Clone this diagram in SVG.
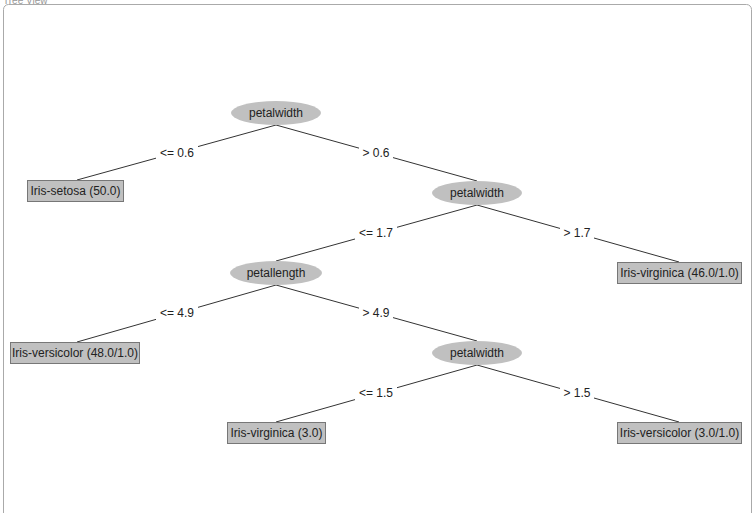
<svg xmlns="http://www.w3.org/2000/svg" width="756" height="513" viewBox="0 0 756 513">
<style>
text{font-family:"Liberation Sans",Arial,sans-serif;font-size:12px;fill:#222;text-anchor:middle}
.e{fill:#c0c0c0;stroke:none}
.b{fill:#c0c0c0;stroke:#777;stroke-width:1}
.c line{stroke:#333;stroke-width:1}
.lb{fill:#fff}
</style>
<rect x="0" y="0" width="756" height="513" fill="#fff"/>
<text x="3" y="4" style="text-anchor:start;fill:#999;font-size:10px">Tree View</text>
<rect x="3.5" y="4.5" width="748" height="520" rx="5" fill="none" stroke="#aaa"/>
<g id="connectors" class="c">
<line x1="276" y1="125" x2="77" y2="180"/>
<line x1="276" y1="125" x2="477" y2="181"/>
<line x1="477" y1="205" x2="276" y2="261"/>
<line x1="477" y1="205" x2="679" y2="262"/>
<line x1="276" y1="285" x2="77" y2="342"/>
<line x1="276" y1="285" x2="477" y2="341"/>
<line x1="477" y1="365" x2="276" y2="422"/>
<line x1="477" y1="365" x2="679" y2="422"/>
<rect class="lb" x="156" y="146" width="42" height="14"/><text x="177" y="157">&lt;= 0.6</text>
<rect class="lb" x="359" y="146" width="34" height="14"/><text x="376" y="157">&gt; 0.6</text>
<rect class="lb" x="355" y="226" width="42" height="14"/><text x="376" y="237">&lt;= 1.7</text>
<rect class="lb" x="560" y="226" width="34" height="14"/><text x="577" y="237">&gt; 1.7</text>
<rect class="lb" x="156" y="306" width="42" height="14"/><text x="177" y="317">&lt;= 4.9</text>
<rect class="lb" x="359" y="306" width="34" height="14"/><text x="376" y="317">&gt; 4.9</text>
<rect class="lb" x="355" y="386" width="42" height="14"/><text x="376" y="397">&lt;= 1.5</text>
<rect class="lb" x="560" y="386" width="34" height="14"/><text x="577" y="397">&gt; 1.5</text>
</g>
<g id="n-root"><ellipse class="e" cx="276" cy="113" rx="45" ry="12"/><text x="276" y="117">petalwidth</text></g>
<g id="n-setosa"><rect class="b" x="27.5" y="180.5" width="96" height="21"/><text x="75.5" y="195">Iris-setosa (50.0)</text></g>
<g id="n-pw2"><ellipse class="e" cx="477" cy="193" rx="45" ry="12"/><text x="477" y="197">petalwidth</text></g>
<g id="n-virg46"><rect class="b" x="617.5" y="262.5" width="124" height="21"/><text x="679.5" y="277">Iris-virginica (46.0/1.0)</text></g>
<g id="n-pl"><ellipse class="e" cx="276" cy="273" rx="46" ry="12"/><text x="276" y="277">petallength</text></g>
<g id="n-vers48"><rect class="b" x="10.5" y="342.5" width="129" height="21"/><text x="75" y="357">Iris-versicolor (48.0/1.0)</text></g>
<g id="n-pw3"><ellipse class="e" cx="477" cy="353" rx="45" ry="12"/><text x="477" y="357">petalwidth</text></g>
<g id="n-virg3"><rect class="b" x="227.5" y="422.5" width="98" height="21"/><text x="276.5" y="437">Iris-virginica (3.0)</text></g>
<g id="n-vers3"><rect class="b" x="617.5" y="422.5" width="124" height="21"/><text x="679.5" y="437">Iris-versicolor (3.0/1.0)</text></g>
</svg>
